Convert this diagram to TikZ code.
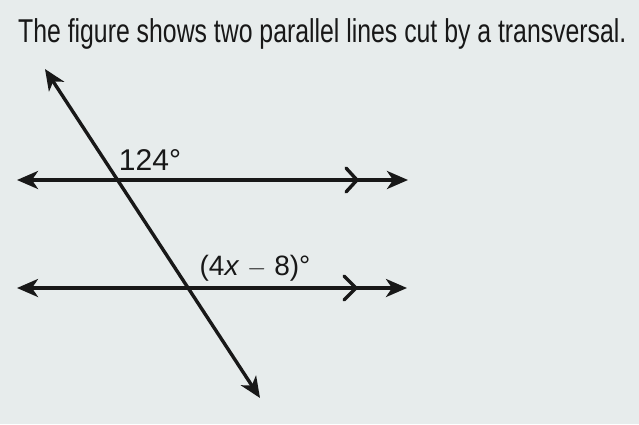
\documentclass[tikz,border=0pt]{standalone}
\usepackage{fontspec}
\setmainfont{Liberation Sans}
\usepackage{tikz}
\usetikzlibrary{arrows.meta,positioning}
\definecolor{paper}{RGB}{231,236,236}
\definecolor{ink}{RGB}{24,24,24}
\tikzset{
    %Define standard arrow tip
    >={Stealth[length=21pt,width=18pt,inset=6pt]},
    %Define style for the lines
    lijn/.style={
           <->,
           draw=ink,
           line width=3.4pt},
    %Define style for the parallel marks
    pijl/.style={
           draw=ink,
           line width=3.4pt,
           line cap=round,
           line join=miter},
    hoek/.style={
           font=\fontsize{30pt}{32pt}\selectfont,
           text=ink,
           inner sep=0pt}
}
\begin{document}
\begin{tikzpicture}[x=1pt,y=1pt]
 %background
 \fill[paper] (0,0) rectangle (639,424);
 \useasboundingbox (0,0) rectangle (639,424);

 %title
 \node[anchor=base west, inner sep=0pt, text=ink, xscale=0.752,
   font=\fontsize{33pt}{35pt}\selectfont] (titel) at (18,381)
   {The figure shows two parallel lines cut by a transversal.};

 %points
 \coordinate (a1) at (17,244);
 \coordinate (a2) at (408,244);
 \coordinate (b1) at (17,136);
 \coordinate (b2) at (407,136);
 \coordinate (t1) at (45,355);
 \coordinate (t2) at (260,26);
 \coordinate (p) at (117.5,244);
 \coordinate (q) at (188,136);

 %parallel marks
 \coordinate (m1) at (357,244);
 \coordinate (m2) at (356,136);

 %lines
 \draw[lijn] (a1) -- (a2);
 \draw[lijn] (b1) -- (b2);
 \draw[lijn] (t1) -- (t2);
 \draw[pijl] ([shift={(-11,12)}]m1) -- (m1) -- ([shift={(-11,-12)}]m1);
 \draw[pijl] ([shift={(-12,12)}]m2) -- (m2) -- ([shift={(-12,-12)}]m2);

 %labels
 \node[hoek] (h1) at (150,264) {124°};
 \node[hoek, font=\fontsize{28pt}{30pt}\selectfont] (h2) at (255,156) {(4\textit{x} $-$ 8)°};
\end{tikzpicture}
\end{document}
